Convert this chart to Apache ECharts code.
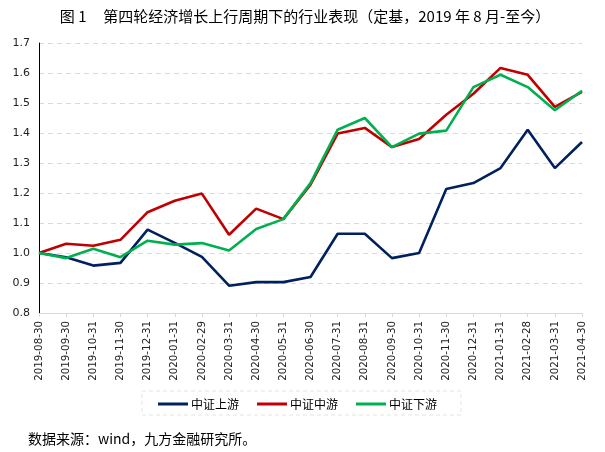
<!DOCTYPE html>
<html><head><meta charset="utf-8">
<script src="https://cdn.jsdelivr.net/npm/echarts@6/dist/echarts.min.js"></script>
<style>html,body{margin:0;padding:0;background:#fff}#c{width:605px;height:452px}</style>
</head><body><div id="c"></div>
<script>
const categories = ["2019-08-30","2019-09-30","2019-10-31","2019-11-30","2019-12-31","2020-01-31","2020-02-29","2020-03-31","2020-04-30","2020-05-31","2020-06-30","2020-07-31","2020-08-31","2020-09-30","2020-10-31","2020-11-30","2020-12-31","2021-01-31","2021-02-28","2021-03-31","2021-04-30"];
const upstream = [1.000,0.986,0.958,0.967,1.078,1.034,0.987,0.891,0.903,0.903,0.920,1.064,1.064,0.983,1.000,1.213,1.233,1.283,1.411,1.283,1.370];
const midstream = [1.000,1.031,1.024,1.044,1.136,1.174,1.198,1.061,1.148,1.113,1.228,1.398,1.417,1.353,1.380,1.461,1.531,1.617,1.594,1.487,1.537];
const downstream = [1.000,0.983,1.014,0.986,1.041,1.028,1.033,1.008,1.080,1.113,1.233,1.411,1.450,1.353,1.398,1.408,1.553,1.594,1.553,1.476,1.541];
const seriesNames = ["中证上游","中证中游","中证下游"];
const colors = ["#002060","#C00000","#00B050"];
const title = "图 1     第四轮经济增长上行周期下的行业表现（定基，2019 年 8 月-至今）";
const source = "数据来源：wind，九方金融研究所。";

const chart = echarts.init(document.getElementById('c'), null, {renderer:'canvas'});
const mk = (name, data, i) => ({
  name, type:'line', data, symbol:'none', smooth:false,
  lineStyle:{color:colors[i], width:2.6}, itemStyle:{color:colors[i]}
});
chart.setOption({
  animation:false,
  backgroundColor:'#fff',
  title:{text:title, left:300, textAlign:'center', top:4,
    textStyle:{fontFamily:'Noto Sans CJK SC', fontSize:15, fontWeight:'normal', color:'#000'}},
  grid:{left:39, right:23, top:43, bottom:139, containLabel:false},
  xAxis:{type:'category', data:categories, boundaryGap:false,
    axisLine:{lineStyle:{color:'#d9d9d9', width:1}},
    axisTick:{show:true, alignWithLabel:true, lineStyle:{color:'#d9d9d9'}, length:4},
    axisLabel:{rotate:90, interval:0, fontFamily:'DejaVu Sans', fontSize:10.3, color:'#222', margin:8},
    splitLine:{show:false}},
  yAxis:{type:'value', min:0.8, max:1.7, interval:0.1,
    axisLine:{show:true, lineStyle:{color:'#000', width:1}},
    axisTick:{show:false},
    axisLabel:{formatter:v=>v.toFixed(1), fontFamily:'DejaVu Sans', fontSize:11, color:'#222', margin:9},
    splitLine:{lineStyle:{color:'#d9d9d9', type:[5,4]}}},
  legend:{data:seriesNames, left:153, top:393, itemWidth:30, itemHeight:3, itemGap:18,
    icon:'rect', textStyle:{fontFamily:'Noto Sans CJK SC', fontSize:12, color:'#000', padding:[0,0,0,-2]}},
  graphic:[
    {type:'rect', shape:{x:142, y:391, width:319, height:24}, style:{fill:'none', stroke:'#e6e6dc', lineWidth:1, lineDash:[4,3]}, silent:true},
    {type:'text', left:28, top:432, style:{text:source, font:'14px "Noto Sans CJK SC"', fill:'#000'}}
  ],
  series:[mk(seriesNames[0], upstream, 0), mk(seriesNames[1], midstream, 1), mk(seriesNames[2], downstream, 2)]
});
</script></body></html>
